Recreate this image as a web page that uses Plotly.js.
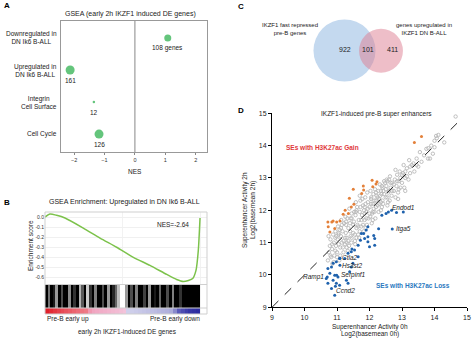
<!DOCTYPE html>
<html><head><meta charset="utf-8">
<script src="https://cdn.plot.ly/plotly-3.0.1.min.js"></script>
<style>html,body{margin:0;padding:0;background:#fff}#c{width:474px;height:338px}</style>
</head><body><div id="c"></div>
<script>
// ---------- DATA ----------
// Panel A
const gseaSets = ['Downregulated in<br>DN Ik6 B-ALL','Upregulated in<br>DN Ik6 B-ALL','Integrin<br>Cell Surface','Cell Cycle'];
const gseaNES = [1.08, -2.13, -1.35, -1.18];
const gseaGenes = ['108 genes','161','12','126'];
const nesTicks = [-2,-1,0,1,2];
// Panel B
const esRank  = [0,32,75,129,247,355,462,570,677,785,849,892,925,953,974,989,1000];
const esScore = [0.0,0.03,0.017,-0.01,-0.11,-0.21,-0.30,-0.40,-0.48,-0.57,-0.62,-0.64,-0.63,-0.61,-0.53,-0.33,-0.01];
const esTicks = [0,-0.1,-0.2,-0.3,-0.4,-0.5,-0.6];
const esTickText = ['0.0','-0.1','-0.2','-0.3','-0.4','-0.5','-0.6'];
const barcodeShade = [0,0.45,0,0.1,0.6,0,0.3,0,0,0.55,0,0.2,0,0.7,
  0.35,0,0.8,0.2,0,
  0.5,0,0,0.3,0,0.6,0,0.15,0.4,
  0.75,1,1,0.6,
  0,0.3,0,0.5,0,0,0.25,0,0.6,0,0.1,0,0.4,0,0,0.3,0,0.5,0,0,0.2,0,0,
  0,0,0,0,0];
const rankMetric = [2.5,2.3,2.1,1.9,1.75,1.6,1.45,1.3,1.15,1.0,0.9,0.82,
  0.7,0.62,0.55,0.48,0.4,0.33,0.26,0.18,0.1,
  -0.1,-0.15,-0.2,-0.28,-0.35,-0.42,-0.5,-0.58,-0.65,-0.72,-0.8,-0.9,
  -1.2,-1.5,-1.8,-2.1,-2.3,-2.4,-2.5];
// Panel C
const vennLabels = ['IKZF1 fast repressed<br>pre-B genes','genes upregulated in<br>IKZF1 DN B-ALL'];
const vennCounts = [922, 101, 411];
// Panel D
const grayX = [10.72,10.75,10.78,10.8,10.82,10.85,10.88,10.9,10.74,10.86,10.92,10.95,10.97,
 11.0,11.02,11.05,11.08,11.1,11.12,11.15,11.18,11.2,11.03,11.07,11.13,11.17,11.22,
 11.25,11.27,11.3,11.32,11.35,11.37,11.4,11.42,11.45,11.28,11.33,11.38,11.44,11.26,
 11.5,11.52,11.55,11.57,11.6,11.62,11.65,11.67,11.7,11.53,11.58,11.63,11.68,11.72,11.56,
 11.75,11.77,11.8,11.82,11.85,11.87,11.9,11.92,11.95,11.78,11.83,11.88,11.93,11.97,
 12.0,12.02,12.05,12.07,12.1,12.12,12.15,12.17,12.2,12.03,12.08,12.13,12.18,12.22,
 12.25,12.27,12.3,12.32,12.35,12.37,12.4,12.42,12.45,12.28,12.33,12.38,12.43,
 12.5,12.52,12.55,12.58,12.6,12.62,12.65,12.68,12.7,12.53,12.57,12.63,
 12.75,12.78,12.8,12.83,12.85,12.88,12.9,12.93,12.95,12.8,
 13.0,13.03,13.07,13.1,13.15,13.2,13.25,13.3,13.05,13.22,
 13.38,13.45,13.5,13.55,13.6,13.68,13.75,13.8,13.86,
 13.9,13.95,14.0,14.05,14.07,14.12,14.3,14.0,13.81,14.65,
 11.05,11.3,11.6,11.85,12.1,12.35,12.55,10.95,11.45,11.7,
 10.8,10.85,10.9,10.95,11.0,11.05,11.1,11.15,11.2,11.25,11.3,11.35,11.4,11.45,11.5,11.55,11.6,11.65,11.7,11.75,
 11.8,11.85,11.9,11.95,12.0,12.05,12.1,12.15,12.2,12.25,12.3,12.35,12.4,12.45,12.5,12.55,12.6,12.65,12.7,12.75,
 12.85,12.9,12.95,13.0,13.1,13.15,13.25,13.35,13.45,10.98,11.12,11.28,11.42,11.58,11.72,11.88,12.05,12.2,12.38,12.48,
 12.88,13.1];
const grayY = [10.45,10.7,10.9,11.1,10.55,10.8,11.25,11.0,11.2,10.35,10.6,11.35,10.9,
 10.7,11.1,10.95,11.4,10.6,11.2,11.55,10.85,11.05,11.5,10.45,11.7,11.35,11.6,
 10.95,11.3,11.15,11.75,11.45,10.9,11.6,11.2,11.9,11.55,10.75,12.05,11.0,11.8,
 11.3,11.65,11.05,11.85,11.45,12.1,11.25,11.7,11.95,11.95,12.25,11.55,11.15,12.3,10.95,
 11.5,11.85,12.15,11.35,11.7,12.4,11.95,11.55,12.25,12.35,12.0,11.45,12.55,11.75,
 12.1,11.8,12.4,11.6,12.2,12.5,11.95,12.65,12.3,12.6,11.9,12.05,11.75,12.45,
 12.15,12.6,12.35,12.8,12.0,12.5,12.7,12.2,12.9,11.95,12.45,12.1,12.6,
 12.4,12.75,12.15,12.55,12.95,12.3,12.7,12.45,12.85,12.95,12.25,13.05,
 12.6,12.95,12.4,12.75,13.1,12.55,12.9,13.2,12.7,13.25,
 12.85,13.15,12.7,13.0,13.3,12.95,13.15,13.4,13.4,13.55,
 13.2,13.6,13.35,13.8,13.5,13.7,13.9,13.6,13.6,
 14.0,13.75,14.15,14.3,14.23,14.33,14.1,13.95,13.92,14.9,
 11.3,11.0,12.0,12.1,11.7,12.25,12.9,11.15,11.75,12.45,
 10.6,10.95,10.4,10.75,10.55,11.25,10.85,11.0,10.7,11.15,10.85,11.05,11.35,11.15,11.55,11.25,11.15,11.5,11.35,11.7,
 11.55,11.9,11.75,12.05,11.9,12.2,11.95,12.3,12.1,12.4,12.2,12.6,12.3,12.5,12.65,12.4,12.6,12.85,12.6,12.8,
 12.9,12.65,13.0,13.1,13.2,13.05,13.35,13.45,13.4,11.2,11.45,11.65,11.75,11.95,12.1,12.2,12.35,12.55,12.75,12.85,
 12.35,12.6];
const gainX = [10.72,10.84,10.88,10.73,10.78,10.93,10.99,11.09,11.19,11.25,11.35,11.38,11.52,11.50,11.76,11.81,11.82,12.10,12.20,12.08,12.23,11.44,13.38,13.60];
const gainY = [11.64,11.64,11.67,11.49,11.33,11.44,11.64,11.67,11.88,12.00,11.90,12.37,12.19,12.65,12.52,12.75,12.63,12.73,12.81,12.93,12.88,12.10,14.10,14.28];
const lossX = [11.85,11.95,11.65,11.54,11.44,11.34,11.24,11.08,10.98,10.88,10.83,10.72,10.78,10.93,11.03,10.88,10.98,11.08,10.93,11.29,11.34,11.39,11.49,11.44,10.67,10.72,10.83,12.00,12.16,11.75,11.90,11.95,11.65,12.58,12.68,12.83,13.04,12.51,12.70,11.95,12.16,12.38,11.82,11.72,11.46,12.13,12.28,11.09,11.09,10.99,10.70,10.95];
const lossY = [11.13,11.03,10.92,10.77,10.72,10.67,10.51,10.51,10.41,10.36,10.25,10.20,10.05,9.99,9.94,9.84,9.74,9.68,9.37,9.84,9.74,10.10,10.36,10.25,9.89,9.74,9.58,10.87,11.13,11.28,11.39,11.49,10.56,11.95,12.00,11.93,11.95,11.90,11.42,11.18,10.92,11.85,11.28,11.07,10.80,11.22,11.43,10.52,10.30,9.99,9.94,9.65];
const geneNames = ['Endod1','Itga5','Ctla2','Hs3st2','Serpinf1','Ramp1','Ccnd2'];
const geneX = [12.64,12.74,11.10,11.10,11.05,10.67,10.92];
const geneY = [12.09,11.41,10.55,10.28,9.99,9.94,9.53];
const axisTicksD = [9,10,11,12,13,14,15];

// ---------- LAYOUT HELPERS ----------
const W=474,H=338;
const PX=x=>x/W, PY=y=>1-y/H;
const F='Arial, "Liberation Sans", sans-serif';
const ann=[];
function txt(t,x,y,o){ann.push(Object.assign({text:t,x:PX(x),y:PY(y),xref:'paper',yref:'paper',xanchor:'center',yanchor:'middle',showarrow:false,font:{family:F,size:6.5,color:'#222'}},o||{}));}

// panel letters
txt('<b>A</b>',7,6,{font:{family:F,size:8,color:'#000'}});
txt('<b>B</b>',7,202,{font:{family:F,size:8,color:'#000'}});
txt('<b>C</b>',241,7,{font:{family:F,size:8,color:'#000'}});
txt('<b>D</b>',241,110,{font:{family:F,size:8,color:'#000'}});

// Panel A texts
txt('GSEA (early 2h IKZF1 induced DE genes)',130,14,{font:{family:F,size:7,color:'#222'}});
txt('NES',135,171);
gseaSets.forEach((s,i)=>ann.push({text:s,x:PX(59),xref:'paper',y:i,yref:'y',xanchor:'right',yanchor:'middle',align:'center',showarrow:false,font:{family:F,size:6.5,color:'#222'}}));
gseaGenes.forEach((g,i)=>ann.push({text:g,x:gseaNES[i],y:i,xref:'x',yref:'y',xanchor:'center',yanchor:'middle',yshift:-10,showarrow:false,font:{family:F,size:6.5,color:'#222'}}));

// Panel B texts
txt('GSEA Enrichment: Upregulated in DN Ik6 B-ALL',124,202,{font:{family:F,size:7,color:'#222'}});
txt('Enrichment score',30,246,{textangle:-90,font:{family:F,size:6.5,color:'#222'}});
ann.push({text:'NES=-2.64',x:940,y:-0.07,xref:'x2',yref:'y2',xanchor:'right',yanchor:'middle',showarrow:false,font:{family:F,size:6.5,color:'#222'}});
txt('Pre-B early up',45,319,{xanchor:'left'});
txt('Pre-B early down',202,319,{xanchor:'right'});
txt('early 2h IKZF1-induced DE genes',127,332);

// Panel C texts
txt(vennLabels[0],290,29,{align:'center',font:{family:F,size:6,color:'#222'}});
txt(vennLabels[1],424,29,{align:'center',font:{family:F,size:6,color:'#222'}});
[[345,49],[368,49],[392,49]].forEach((p,i)=>ann.push({text:String(vennCounts[i]),x:p[0],y:p[1],xref:'x6',yref:'y6',xanchor:'center',yanchor:'middle',showarrow:false,font:{family:F,size:7,color:'#222'}}));

// Panel D texts
txt('IKZF1-induced pre-B super enhancers',376,114,{font:{family:F,size:6.5,color:'#222'}});
ann.push({text:'<b>SEs with H3K27ac Gain</b>',x:10.54,y:13.93,xref:'x5',yref:'y5',xanchor:'center',yanchor:'middle',showarrow:false,font:{family:F,size:6.5,color:'#e0383a'}});
ann.push({text:'<b>SEs with H3K27ac Loss</b>',x:13.35,y:9.68,xref:'x5',yref:'y5',xanchor:'center',yanchor:'middle',showarrow:false,font:{family:F,size:6.5,color:'#2a78c0'}});
geneNames.forEach((g,i)=>ann.push({text:'<i>'+g+'</i>',x:geneX[i],y:geneY[i],xref:'x5',yref:'y5',xanchor:(g==='Ramp1'?'right':'left'),yanchor:'middle',showarrow:false,font:{family:F,size:6.5,color:'#222'}}));
txt('Superenhancer Activity 0h',370,327);
txt('Log2(basemean 0h)',370,334);
txt('Superenhancer Activity 2h',245,210,{textangle:-90});
txt('Log2(basemean 2h)',253,210,{textangle:-90});

// ---------- TRACES ----------
const traces=[
 {type:'scatter',mode:'markers',x:gseaNES,y:[0,1,2,3],xaxis:'x',yaxis:'y',
  marker:{color:'#22ad44',size:[7,9,2.5,9],line:{width:0}},hoverinfo:'skip'},
 {type:'scatter',mode:'lines',x:esRank,y:esScore,xaxis:'x2',yaxis:'y2',line:{color:'#7cc24b',width:1.5,shape:'spline',smoothing:0.6}},
 {type:'heatmap',z:[barcodeShade],x0:1000/120,dx:1000/60,y:[0],xaxis:'x2',yaxis:'y3',colorscale:[[0,'#000'],[1,'#fff']],zmin:0,zmax:1,showscale:false},
 {type:'heatmap',z:[rankMetric],x0:12.5,dx:25,y:[0],xaxis:'x2',yaxis:'y4',zmin:-2.5,zmax:2.5,showscale:false,
  colorscale:[[0,'#2c2ca0'],[0.2,'#5a5ab8'],[0.3,'#a8a8d8'],[0.49,'#d2d2ec'],[0.51,'#f3c6dc'],[0.66,'#f0a0bc'],[0.68,'#ee7a86'],[1,'#e0202a']]},
 {type:'scatter',mode:'markers',x:grayX,y:grayY,xaxis:'x5',yaxis:'y5',marker:{symbol:'circle-open',size:3.4,color:'#b8b8b8',line:{width:0.9}}},
 {type:'scatter',mode:'lines',x:[9,14.8],y:[9,14.8],xaxis:'x5',yaxis:'y5',line:{color:'#222',width:1,dash:'dash'}},
 {type:'scatter',mode:'markers',x:gainX,y:gainY,xaxis:'x5',yaxis:'y5',marker:{size:3,color:'#e3803a'}},
 {type:'scatter',mode:'markers',x:lossX,y:lossY,xaxis:'x5',yaxis:'y5',marker:{size:3,color:'#1f62ad'}}
];

// Venn radii from set sizes (area proportional)
const blueTotal=vennCounts[0]+vennCounts[1], pinkTotal=vennCounts[1]+vennCounts[2];
const k=0.97, rB=k*Math.sqrt(blueTotal), rP=k*Math.sqrt(pinkTotal);
const cB=[344.5,50.5], cP=[381,50.8];

const shapes=[
 {type:'line',xref:'x',yref:'y domain',x0:0,x1:0,y0:0,y1:1,line:{color:'#888',width:1}},
 {type:'rect',xref:'paper',yref:'paper',x0:PX(45),x1:PX(207),y0:PY(314),y1:PY(212),line:{color:'#cfcfcf',width:1}},
 {type:'line',xref:'paper',yref:'paper',x0:PX(45),x1:PX(207),y0:PY(284.5),y1:PY(284.5),line:{color:'#cfcfcf',width:1}},
 {type:'line',xref:'paper',yref:'paper',x0:PX(45),x1:PX(207),y0:PY(308),y1:PY(308),line:{color:'#cfcfcf',width:1}},
 {type:'circle',xref:'x6',yref:'y6',x0:cB[0]-rB,x1:cB[0]+rB,y0:cB[1]-rB,y1:cB[1]+rB,fillcolor:'rgb(196,217,239)',line:{width:0},layer:'below'},
 {type:'circle',xref:'x6',yref:'y6',x0:cP[0]-rP,x1:cP[0]+rP,y0:cP[1]-rP,y1:cP[1]+rP,fillcolor:'rgb(221,125,145)',opacity:0.5,line:{width:0},layer:'below'}
];

const tf={family:F,size:5.5,color:'#333'};
const layout={
 width:W,height:H,autosize:false,margin:{l:0,r:0,t:0,b:0},paper_bgcolor:'#fff',plot_bgcolor:'rgba(0,0,0,0)',
 showlegend:false,font:{family:F},
 xaxis:{domain:[PX(61),PX(207)],range:[-2.43,2.37],tickvals:nesTicks,ticks:'outside',ticklen:2,tickcolor:'#888',tickfont:tf,
   showline:true,mirror:true,linecolor:'#999',linewidth:1,zeroline:false,showgrid:false,anchor:'y',fixedrange:true},
 yaxis:{domain:[PY(152),PY(21)],range:[3.56,-0.53],showticklabels:false,ticks:'',showline:true,mirror:true,linecolor:'#999',linewidth:1,zeroline:false,showgrid:false,anchor:'x'},
 xaxis2:{domain:[PX(45),PX(207)],range:[0,1045],showticklabels:false,ticks:'',showgrid:true,gridcolor:'#f2f2f2',zeroline:false,anchor:'y2'},
 yaxis2:{domain:[PY(284.5),PY(212)],range:[-0.67,0.05],tickvals:esTicks,ticktext:esTickText,tickfont:{family:F,size:5,color:'#333'},ticks:'',
   showgrid:true,gridcolor:'#f0f0f0',zeroline:false,anchor:'x2'},
 yaxis3:{domain:[PY(308),PY(285)],range:[-0.5,0.5],visible:false,anchor:'x2'},
 yaxis4:{domain:[PY(314),PY(308)],range:[-0.5,0.5],visible:false,anchor:'x2'},
 xaxis5:{domain:[PX(272),PX(467)],range:[9,15],tickvals:axisTicksD,ticks:'outside',ticklen:3,tickcolor:'#000',tickfont:{family:F,size:7,color:'#222'},
   showline:true,linecolor:'#000',linewidth:1,zeroline:false,showgrid:false,anchor:'y5'},
 yaxis5:{domain:[PY(307.3),PY(113.3)],range:[9,15],tickvals:axisTicksD,ticks:'outside',ticklen:3,tickcolor:'#000',tickfont:{family:F,size:7,color:'#222'},
   showline:true,linecolor:'#000',linewidth:1,zeroline:false,showgrid:false,anchor:'x5'},
 xaxis6:{domain:[PX(300),PX(420)],range:[300,420],visible:false,anchor:'y6'},
 yaxis6:{domain:[PY(90),PY(10)],range:[90,10],visible:false,anchor:'x6'},
 annotations:ann,shapes:shapes
};
Plotly.newPlot('c',traces,layout,{staticPlot:true,displayModeBar:false});
</script></body></html>
